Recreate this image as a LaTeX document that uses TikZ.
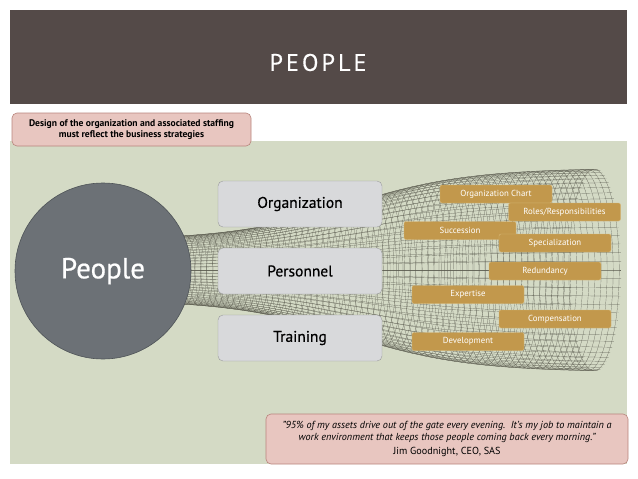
\documentclass[tikz,border=0pt]{standalone}
\usepackage{fontspec}
\setmainfont{PT Sans}
\usetikzlibrary{positioning}
\definecolor{band}{HTML}{544A48}
\definecolor{sage}{HTML}{D4DAC5}
\definecolor{notefill}{HTML}{E8C6C0}
\definecolor{noteline}{HTML}{B8847C}
\definecolor{hubfill}{HTML}{6C7176}
\definecolor{hubline}{HTML}{4E5357}
\definecolor{areafill}{HTML}{D8D9DB}
\definecolor{arealine}{HTML}{9A9B9D}
\definecolor{tagfill}{HTML}{C2984C}
\definecolor{tagline}{HTML}{D9B978}
\definecolor{meshline}{HTML}{5A5A4E}
\tikzset{
	node distance=67pt,
	note/.style={
		draw=noteline, fill=notefill, rounded corners=5pt,
		line width=0.6pt, align=center, inner sep=0pt
	},
	area/.style={
		draw=arealine, fill=areafill, rounded corners=5pt,
		minimum width=164pt, minimum height=46pt,
		font=\fontsize{15.5}{17}\selectfont\addfontfeatures{FakeBold=0.5}, text=black
	},
	tag/.style={
		draw=tagline, fill=tagfill, rounded corners=2pt,
		minimum width=112pt, minimum height=18pt, inner sep=0pt,
		text=white, font=\fontsize{8.8}{10}\selectfont
	},
	mesh/.style={
		draw=meshline, line width=0.18pt
	},
	declare function={rr(\t)=30+72/(1+exp(-(\t-350)/60));}
}

\begin{document}
\begin{tikzpicture}[x=1pt,y=-1pt]
	\useasboundingbox (0,0) rectangle (638,479);
	\fill[band] (10,10) rectangle (627,104);
	\fill[sage] (10,141) rectangle (627,464);

	\foreach \a in {0,5,...,355}
		\draw[mesh] plot[domain=150:596,samples=40,smooth,variable=\t]
			({\t+0.25*rr(\t)*cos(\a)},{270-rr(\t)*sin(\a)});
	\foreach \t in {150,156,...,596}
		\draw[mesh] (\t,270) ellipse [x radius={0.25*rr(\t)*1pt},y radius={rr(\t)*1pt}];

	\node [text=white,font=\fontsize{24}{26}\selectfont\addfontfeatures{LetterSpace=13,FakeBold=0.4}] (title) at (318,62.5) {PEOPLE};

	\node [note,minimum width=239pt,minimum height=33pt,font=\fontsize{9.6}{11}\selectfont\bfseries] (design) at (131.5,129.5)
		{Design of the organization and associated staffing\\must reflect the business strategies};

	\node [circle,draw=hubline,fill=hubfill,line width=0.6pt,minimum size=176pt,text=white,font=\fontsize{29}{31}\selectfont\addfontfeatures{FakeBold=0.6}] (people) at (103,271) {People};

	\node [area] (org) at (300,204) {Organization};
	\node [area,below of=org] (pers) {Personnel};
	\node [area,below of=pers] (train) {Training};

	\node [tag] (chart) at (496,194) {Organization Chart};
	\node [tag] (roles) at (564.5,212) {Roles/Responsibilities};
	\node [tag] (succ) at (460,230.5) {Succession};
	\node [tag] (spec) at (555,243) {Specialization};
	\node [tag] (redun) at (545,271) {Redundancy};
	\node [tag] (expert) at (468,294.5) {Expertise};
	\node [tag] (comp) at (555,319) {Compensation};
	\node [tag] (devel) at (468,341.5) {Development};

	\node [note,minimum width=362pt,minimum height=50pt,font=\fontsize{10.2}{12}\selectfont] (quote) at (447,439)
		{\itshape "95\% of my assets drive out of the gate every evening.\ \ It's my job to maintain a\\
		 \itshape work environment that keeps those people coming back every morning."\\[2pt]
		 Jim Goodnight, CEO, SAS};
\end{tikzpicture}
\end{document}
